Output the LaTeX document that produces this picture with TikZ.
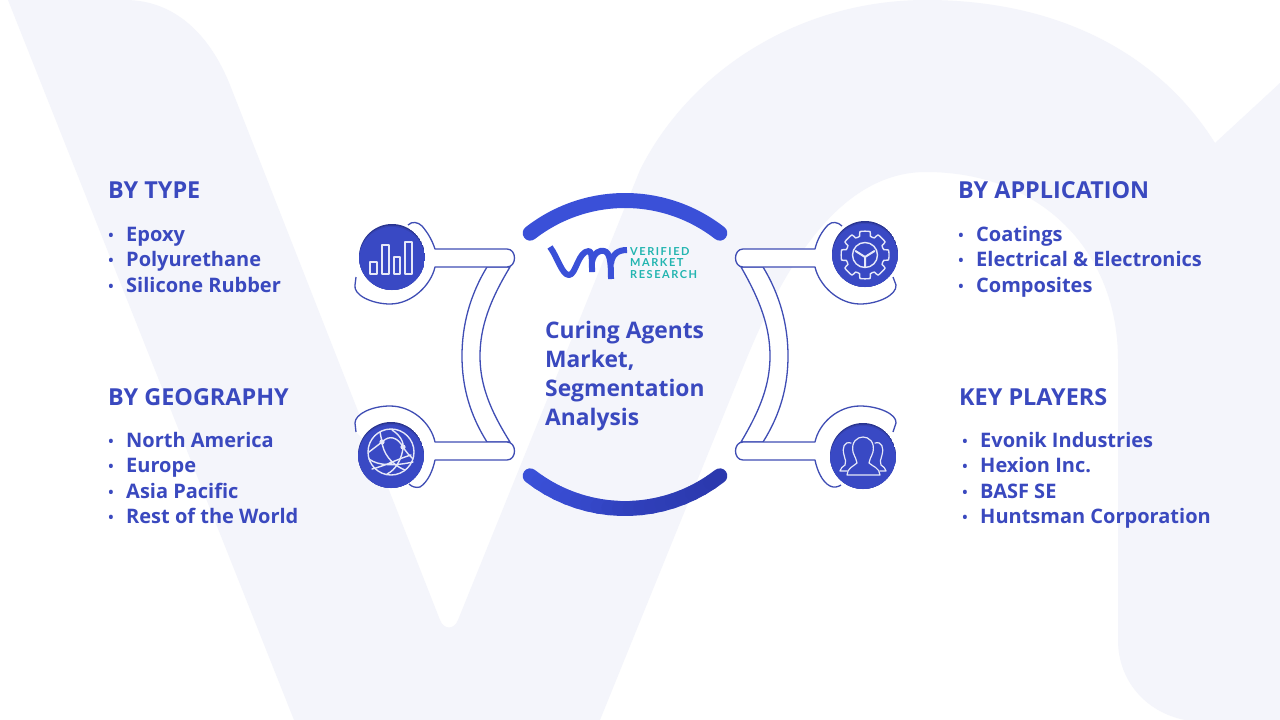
\documentclass[tikz,border=0pt]{standalone}
\usepackage{fontspec}
\setmainfont{Open Sans}
\newfontfamily\logofont[LetterSpace=14]{Lato}
\definecolor{bgshape}{HTML}{F4F5FB}
\definecolor{txt}{HTML}{3A49BF}
\definecolor{ringA}{HTML}{3A50D8}
\definecolor{ringB}{HTML}{2B39AE}
\definecolor{line}{HTML}{3F4DB4}
\definecolor{disc}{HTML}{3949C4}
\definecolor{discdark}{HTML}{2A3590}
\definecolor{teal}{HTML}{22B5B0}
\definecolor{iconline}{HTML}{E6E8F8}
\newcommand{\bul}{\llap{\raisebox{0.5pt}{\fontsize{14}{14}\selectfont\textbullet}\hspace{12.5pt}}}
\tikzset{
  head/.style={anchor=base west,inner sep=0pt,text=txt,font=\bfseries\fontsize{23.4}{27}\selectfont},
  item/.style={anchor=base west,inner sep=0pt,text=txt,font=\bfseries\fontsize{20}{25}\selectfont},
  title/.style={anchor=base west,inner sep=0pt,text=txt,font=\bfseries\fontsize{22.8}{28}\selectfont},
  logotxt/.style={anchor=base west,inner sep=0pt,text=teal,font=\logofont\bfseries\fontsize{11}{12}\selectfont},
  outline/.style={draw=line,fill=white,line width=1.3pt,line join=round},
  icon/.style={draw=iconline,line width=1.4pt,line join=round,line cap=round},
}
\newcommand{\icondisc}[2]{%
  \begin{scope}
    \clip (#1,#2) circle[radius=33];
    \fill[discdark] (#1,#2) circle[radius=33];
    \fill[disc!70!discdark] (#1,#2+1.5) circle[radius=33];
    \fill[disc] (#1,#2+3) circle[radius=33];
  \end{scope}}
\begin{document}
\begin{tikzpicture}[x=1pt,y=-1pt]
\useasboundingbox (0,0) rectangle (1280,720);
\fill[white] (0,0) rectangle (1280,720);
% background letters
\fill[bgshape] (8,0) -- (294,720) -- (600,720) -- (746,360)
  .. controls (785,265) and (840,172) .. (926,172)
  .. controls (1040,172) and (1118,250) .. (1118,360)
  -- (1118,640) .. controls (1118,680) and (1145,712) .. (1185,720)
  -- (1280,720) -- (1280,83) -- (1215,143)
  .. controls (1160,55) and (1060,0) .. (926,0)
  .. controls (800,0) and (690,70) .. (640,170)
  -- (458,620) .. controls (454,630) and (444,630) .. (440,620)
  -- (230,85) .. controls (210,35) and (175,0) .. (125,0) -- cycle;
% ring strips
\draw[outline] (487,267) .. controls (470,295) and (462,325) .. (462,356)
  .. controls (462,387) and (470,415) .. (487,442) -- (510,442)
  .. controls (490,410) and (480,385) .. (480,356)
  .. controls (480,327) and (490,300) .. (510,267) -- cycle;
\draw[outline] (763,267) .. controls (780,295) and (788,325) .. (788,356)
  .. controls (788,387) and (780,415) .. (763,442) -- (741,442)
  .. controls (760,410) and (770,385) .. (770,356)
  .. controls (770,327) and (760,300) .. (741,267) -- cycle;
% handles with arcs
\draw[outline] (408,225) .. controls (412,221) and (418,222) .. (422,226)
  .. controls (428,233) and (432,240) .. (435,249) -- (507,249)
  .. controls (517,249) and (517,267) .. (507,267) -- (435,267)
  .. controls (431,285) and (412,304) .. (390,304)
  .. controls (372,304) and (353,295) .. (355,285) -- (356,277);
\draw[outline] (356,432) -- (355,423) .. controls (355,414) and (372,406) .. (390,406)
  .. controls (412,406) and (431,423) .. (435,442) -- (507,442)
  .. controls (517,442) and (517,460) .. (507,460) -- (435,460)
  .. controls (433,470) and (428,482) .. (420,487) .. controls (416,488) and (412,487) .. (409,484);
\draw[outline] (842,226) .. controls (838,222) and (832,221) .. (828,225)
  .. controls (822,231) and (817,240) .. (815,249) -- (743,249)
  .. controls (733,249) and (733,267) .. (743,267) -- (815,267)
  .. controls (819,285) and (838,304) .. (860,304)
  .. controls (878,304) and (897,295) .. (896,285) -- (893,277);
\draw[outline] (893,432) -- (896,423) .. controls (897,414) and (878,406) .. (860,406)
  .. controls (838,406) and (819,423) .. (815,442) -- (743,442)
  .. controls (733,442) and (733,460) .. (743,460) -- (815,460)
  .. controls (817,470) and (822,482) .. (830,486) .. controls (834,488) and (838,487) .. (841,485);
% ring arcs
\draw[ringA,line width=15pt,line cap=round] plot[domain=52:128,samples=50] ({625+154*cos(\x)},{354.5-154*sin(\x)});
\foreach \a/\m in {232/100,236/95,240/90,244/85,248/80,252/72,256/64,260/56,264/48,268/40,272/34,276/28,280/24,284/20,288/16,292/12,296/8,300/4,304/0}{
  \draw[ringA!\m!ringB,line width=15pt,line cap=round]
    ({625+154*cos(\a)},{354.5-154*sin(\a)}) -- ({625+154*cos(\a+4)},{354.5-154*sin(\a+4)});
}
% icon discs
\icondisc{392}{257}
\icondisc{391}{455}
\icondisc{865}{254}
\icondisc{863}{456}
% bars
\draw[icon,line cap=butt] (370,262) rectangle (377,274);
\draw[icon,line cap=butt] (382,245) rectangle (389,274);
\draw[icon,line cap=butt] (394,257) rectangle (400,274);
\draw[icon,line cap=butt] (405,242) rectangle (412,274);
% globe
\draw[icon] (391,452) circle[radius=23];
\draw[icon] (392,430) .. controls (400,435) and (404,442) .. (403,448) .. controls (402,458) and (396,470) .. (387,474);
\draw[icon] (382,442) -- (369,452);
\draw[icon] (380,432) -- (382,442) .. controls (383,452) and (390,464) .. (405,470);
\draw[icon] (382,442) .. controls (390,434) and (398,438) .. (403,447) .. controls (406,452) and (410,456) .. (413,459);
\draw[icon] (372,469) .. controls (385,466) and (400,458) .. (411,455);
\draw[icon] (369,459) .. controls (378,466) and (395,466) .. (413,462);
\fill[iconline] (382,442) circle[radius=2.6] (403,447) circle[radius=2.6] (391,463) circle[radius=1.8];
% gear
\draw[icon] plot[smooth cycle,tension=0.35] coordinates {
  ({865+24*cos(0)},{255+24*sin(0)}) ({865+24*cos(12)},{255+24*sin(12)}) ({865+19.5*cos(16)},{255+19.5*sin(16)}) ({865+19.5*cos(29)},{255+19.5*sin(29)})
  ({865+24*cos(33)},{255+24*sin(33)}) ({865+24*cos(57)},{255+24*sin(57)}) ({865+19.5*cos(61)},{255+19.5*sin(61)}) ({865+19.5*cos(74)},{255+19.5*sin(74)})
  ({865+24*cos(78)},{255+24*sin(78)}) ({865+24*cos(102)},{255+24*sin(102)}) ({865+19.5*cos(106)},{255+19.5*sin(106)}) ({865+19.5*cos(119)},{255+19.5*sin(119)})
  ({865+24*cos(123)},{255+24*sin(123)}) ({865+24*cos(147)},{255+24*sin(147)}) ({865+19.5*cos(151)},{255+19.5*sin(151)}) ({865+19.5*cos(164)},{255+19.5*sin(164)})
  ({865+24*cos(168)},{255+24*sin(168)}) ({865+24*cos(192)},{255+24*sin(192)}) ({865+19.5*cos(196)},{255+19.5*sin(196)}) ({865+19.5*cos(209)},{255+19.5*sin(209)})
  ({865+24*cos(213)},{255+24*sin(213)}) ({865+24*cos(237)},{255+24*sin(237)}) ({865+19.5*cos(241)},{255+19.5*sin(241)}) ({865+19.5*cos(254)},{255+19.5*sin(254)})
  ({865+24*cos(258)},{255+24*sin(258)}) ({865+24*cos(282)},{255+24*sin(282)}) ({865+19.5*cos(286)},{255+19.5*sin(286)}) ({865+19.5*cos(299)},{255+19.5*sin(299)})
  ({865+24*cos(303)},{255+24*sin(303)}) ({865+24*cos(327)},{255+24*sin(327)}) ({865+19.5*cos(331)},{255+19.5*sin(331)}) ({865+19.5*cos(344)},{255+19.5*sin(344)})
  ({865+24*cos(348)},{255+24*sin(348)})
};
\draw[icon] (865,255) circle[radius=12.5];
\draw[icon,line width=2pt] (865,257) -- (855.5,251) (865,257) -- (874.5,251) (865,257) -- (865,267);
% people
\draw[icon,line width=1.2pt] (847,475) -- (880,475) .. controls (880,468) and (872,466) .. (869,463)
  .. controls (869,460) and (871,458) .. (873,452) .. controls (875,442) and (869,437) .. (863,437)
  .. controls (857,437) and (851,442) .. (853,452) .. controls (855,458) and (857,460) .. (857,463)
  .. controls (854,466) and (847,468) .. (847,475) -- cycle;
\draw[icon,line width=1.2pt] (851,443) .. controls (844,441) and (842,448) .. (844,455) .. controls (845,460) and (847,462) .. (845,465)
  .. controls (843,467) and (840,468) .. (840,471) -- (847,471);
\draw[icon,line width=1.2pt] (875,443) .. controls (882,441) and (884,448) .. (882,455) .. controls (881,460) and (879,462) .. (881,465)
  .. controls (883,467) and (886,468) .. (886,471) -- (880,471);
% logo mark
\draw[ringA,line width=6pt,line join=round] (550,247) .. controls (558,258) and (562,275) .. (569,275)
  .. controls (576,275) and (578,251) .. (589,251) .. controls (592,251) and (592,260) .. (592,272);
\draw[ringA,line width=6pt] (592,262) .. controls (594,252) and (600,250) .. (604,251) .. controls (610,252) and (611,262) .. (611,279);
\draw[ringA,line width=6pt] (611,264) .. controls (612,254) and (618,250) .. (627,250);
% logo text
\node[logotxt] (lg1) at (630,255.5) {VERIFIED};
\node[logotxt] (lg2) at (630,266.5) {MARKET};
\node[logotxt] (lg3) at (630,278.5) {RESEARCH};
% title
\node[title] (t1) at (545,338) {Curing Agents};
\node[title] (t2) at (545,367) {Market,};
\node[title] (t3) at (545,396) {Segmentation};
\node[title] (t4) at (545,425) {Analysis};
% lists
\node[head] (h1) at (108,198) {BY TYPE};
\node[item] (a1) at (126,241) {\bul Epoxy};
\node[item] (a2) at (126,266) {\bul Polyurethane};
\node[item] (a3) at (126,292) {\bul Silicone Rubber};
\node[head] (h2) at (108,405) {BY GEOGRAPHY};
\node[item] (b1) at (126,447) {\bul North America};
\node[item] (b2) at (126,472) {\bul Europe};
\node[item] (b3) at (126,498) {\bul Asia Pacific};
\node[item] (b4) at (126,523) {\bul Rest of the World};
\node[head] (h3) at (958,198) {BY APPLICATION};
\node[item] (c1) at (976,241) {\bul Coatings};
\node[item] (c2) at (976,266) {\bul Electrical \& Electronics};
\node[item] (c3) at (976,292) {\bul Composites};
\node[head] (h4) at (959,405) {KEY PLAYERS};
\node[item] (d1) at (980,447) {\bul Evonik Industries};
\node[item] (d2) at (980,472) {\bul Hexion Inc.};
\node[item] (d3) at (980,498) {\bul BASF SE};
\node[item] (d4) at (980,523) {\bul Huntsman Corporation};
\end{tikzpicture}
\end{document}
